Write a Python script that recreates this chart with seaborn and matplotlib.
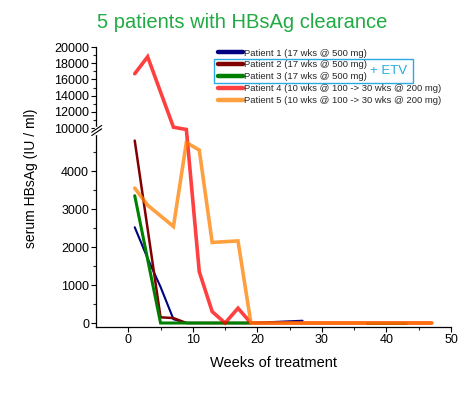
import numpy as np
import pandas as pd
import matplotlib
matplotlib.use("Agg")
import matplotlib.pyplot as plt
from matplotlib.ticker import FixedLocator, NullFormatter
from matplotlib.lines import Line2D
import seaborn as sns

# ---------------- data ----------------
weeks_p1 = [1, 3, 5, 7, 9, 19, 27]
hbsag_p1 = [2520, 1700, 950, 100, 0, 0, 60]

weeks_p2 = [1, 5, 7, 9, 19]
hbsag_p2 = [4800, 150, 130, 0, 0]

weeks_p3 = [1, 5, 7, 9, 11, 13, 15, 17, 19]
hbsag_p3 = [3350, 0, 0, 0, 0, 0, 0, 0, 0]
weeks_p3b = [37, 43]
hbsag_p3b = [0, 0]

weeks_p4 = [1, 3, 7, 9, 11, 13, 15, 17, 19, 47]
hbsag_p4 = [16700, 18800, 10100, 8500, 1350, 300, 0, 390, 0, 0]

weeks_p5 = [1, 3, 7, 9, 11, 13, 17, 19, 47]
hbsag_p5 = [3550, 3100, 2540, 4750, 4550, 2120, 2160, 0, 0]

labels = ["Patient 1 (17 wks @ 500 mg)",
          "Patient 2 (17 wks @ 500 mg)",
          "Patient 3 (17 wks @ 500 mg)",
          "Patient 4 (10 wks @ 100 -> 30 wks @ 200 mg)",
          "Patient 5 (10 wks @ 100 -> 30 wks @ 200 mg)"]
colors = ["#000080", "#800000", "#008000", "#ff0000", "#ff8000"]
alphas = [1.0, 1.0, 1.0, 0.75, 0.75]
widths = [1.5, 1.8, 2.2, 2.6, 2.6]

y_major_lower = [0, 1000, 2000, 3000, 4000]
y_major_upper = [10000, 12000, 14000, 16000, 18000, 20000]
y_minor = [500, 1500, 2500, 3500, 4500, 11000, 13000, 15000, 17000, 19000]
x_major = [0, 10, 20, 30, 40, 50]
x_minor = [5, 15, 25, 35, 45]

# ---------------- broken-axis scale ----------------
def fwd(y):
    y = np.asarray(y, dtype=float)
    return np.where(y <= 5000, y * 0.038,
                    np.where(y <= 10000, 190 + (y - 5000) * 0.001,
                             195 + (y - 10000) * 0.0081))

def inv(p):
    p = np.asarray(p, dtype=float)
    return np.where(p <= 190, p / 0.038,
                    np.where(p <= 195, 5000 + (p - 190) / 0.001,
                             10000 + (p - 195) / 0.0081))

sns.set_theme(style="ticks")
plt.rcParams["font.family"] = ["Liberation Sans", "DejaVu Sans"]

fig = plt.figure(figsize=(4.72, 3.96), dpi=100)
ax = fig.add_axes([96 / 472, 1 - 327 / 396, (451 - 96) / 472, (327 - 47) / 396])
ax.set_yscale("function", functions=(fwd, inv))

series = [(weeks_p1, hbsag_p1), (weeks_p2, hbsag_p2), (weeks_p3, hbsag_p3),
          (weeks_p4, hbsag_p4), (weeks_p5, hbsag_p5)]
handles = []
for i, (wk, val) in enumerate(series):
    df = pd.DataFrame({"week": wk, "hbsag": val})
    sns.lineplot(data=df, x="week", y="hbsag", ax=ax, color=colors[i],
                 alpha=alphas[i], linewidth=widths[i], sort=False,
                 estimator=None, legend=False, solid_joinstyle="miter")
    if i == 2:
        dfb = pd.DataFrame({"week": weeks_p3b, "hbsag": hbsag_p3b})
        sns.lineplot(data=dfb, x="week", y="hbsag", ax=ax, color=colors[i],
                     alpha=alphas[i], linewidth=widths[i], estimator=None,
                     legend=False)
    handles.append(Line2D([0], [0], color=colors[i], alpha=alphas[i], lw=3.2))

ax.set_xlim(-5, 50)
ax.set_ylim(-105, 20000)
ax.yaxis.set_major_locator(FixedLocator(y_major_lower + y_major_upper))
ax.yaxis.set_minor_locator(FixedLocator(y_minor))
ax.yaxis.set_minor_formatter(NullFormatter())
ax.set_yticklabels([str(v) for v in y_major_lower + y_major_upper])
ax.xaxis.set_major_locator(FixedLocator(x_major))
ax.xaxis.set_minor_locator(FixedLocator(x_minor))
ax.set_xticklabels([str(v) for v in x_major])

for s in ["top", "right"]:
    ax.spines[s].set_visible(False)
for s in ["left", "bottom"]:
    ax.spines[s].set_linewidth(0.9)
    ax.spines[s].set_color("black")
ax.tick_params(which="major", direction="out", length=3.5, width=0.8,
               labelsize=9, colors="black", pad=1.5)
ax.tick_params(which="minor", direction="out", length=2, width=0.8)
ax.set_xlabel("")
ax.set_ylabel("")
ax.grid(False)

# break marks on the y axis
def yfrac(v):
    lo, hi = fwd(-105), fwd(20000)
    return float((fwd(v) - lo) / (hi - lo))
yb = yfrac(7500)
ax.plot([0, 0], [yb - 0.008, yb + 0.008], transform=ax.transAxes, color="white",
        lw=2.5, clip_on=False, zorder=5)
for dy in (-0.006, 0.006):
    ax.plot([-0.012, 0.016], [yb + dy - 0.012, yb + dy + 0.012],
            transform=ax.transAxes, color="black", lw=0.8, clip_on=False, zorder=6)

# labels and title
fig.text(273 / 472, 1 - 363 / 396, "Weeks of treatment", ha="center", va="center",
         fontsize=10.5, color="black")
fig.text(31 / 472, 1 - 178 / 396, "serum HBsAg (IU / ml)", ha="center", va="center",
         rotation=90, fontsize=10, color="black")
fig.text(242 / 472, 1 - 22 / 396, "5 patients with HBsAg clearance", ha="center",
         va="center", fontsize=14.5, color="#22aa44")

# legend
leg = fig.legend(handles, labels, loc="upper left",
                 bbox_to_anchor=(218 / 472, 1 - 48.5 / 396), frameon=False,
                 fontsize=6.8, handlelength=2.6, handletextpad=0.2,
                 labelspacing=0.3, borderpad=0, borderaxespad=0)

# ETV box
fig.add_artist(plt.Rectangle((214 / 472, 1 - 83 / 396), (413 - 214) / 472, 24 / 396,
                             transform=fig.transFigure, fill=False,
                             edgecolor="#29abe2", lw=1.0))
fig.text(389 / 472, 1 - 71 / 396, "+ ETV", ha="center", va="center",
         fontsize=9.5, color="#29abe2")

fig.savefig("out.png", dpi=100)
